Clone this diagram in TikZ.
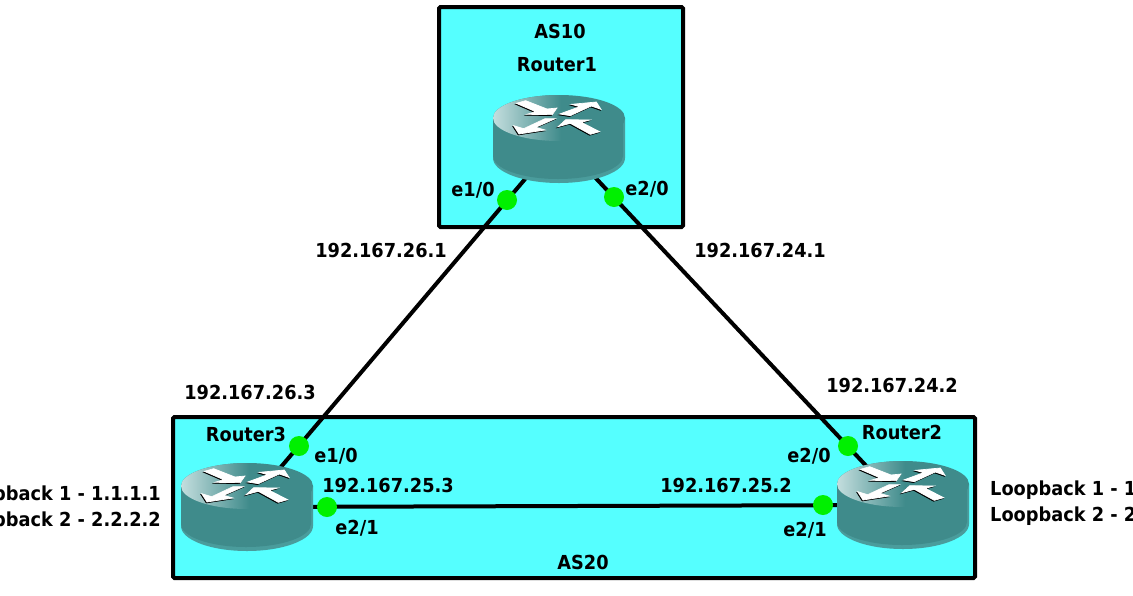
\documentclass[tikz,border=0pt]{standalone}
\usepackage{fontspec}
\setmainfont{DejaVu Sans}[FakeStretch=0.92]
\definecolor{asfill}{HTML}{55FFFF}
\definecolor{rbody}{HTML}{3F8B8B}
\definecolor{rband}{HTML}{4A9C9C}
\definecolor{rlight}{HTML}{C4DEDE}
\definecolor{dotgreen}{HTML}{00F000}
\tikzset{
  px/.style={x=1pt,y=-1pt},
  asbox/.style={draw=black,fill=asfill,line width=4pt,rounded corners=1.5pt},
  link/.style={draw=black,line width=4pt},
  portdot/.style={circle,fill=dotgreen,draw=none,minimum size=20pt,inner sep=0pt},
  lbl/.style={font=\fontsize{19.3}{21}\selectfont\bfseries,text=black,inner sep=0pt},
  anchorpt/.style={inner sep=0pt,minimum size=0pt},
  routerpic/.pic={
    % base band
    \fill[rband] (-66,0) -- (66,0) -- (66,40) arc[start angle=0,end angle=180,x radius=66,y radius=25] -- cycle;
    \fill[rbody] (-66,0) -- (64,0) -- (64,38) arc[start angle=0,end angle=180,x radius=65,y radius=23] -- cycle;
    % top surface
    \fill[rbody] (0,0) ellipse[x radius=66,y radius=23];
    \begin{scope}
      \clip (0,0) ellipse[x radius=66,y radius=23];
      \shade[left color=rlight,right color=rbody] (-66,-23) rectangle (2,23);
    \end{scope}
    \foreach \c/\dx/\dy in {black/-0.8/0.9,white/0/0}{
      \begin{scope}[shift={(\dx,\dy)},scale=1/3,shift={(-358,-114)}]
        \filldraw[fill=\c,draw=\c,line width=0.7pt] (230,70)--(258,62)--(322,87)--(352,84)--(338,104)--(262,103)--(288,95)--cycle;
        \filldraw[fill=\c,draw=\c,line width=0.7pt] (360,102)--(420,80)--(395,73)--(470,66)--(484,88)--(455,78)--(392,107)--cycle;
        \filldraw[fill=\c,draw=\c,line width=0.7pt] (347,116)--(288,142)--(316,150)--(238,162)--(222,137)--(252,146)--(316,116)--cycle;
        \filldraw[fill=\c,draw=\c,line width=0.7pt] (355,140)--(378,119)--(450,120)--(425,127)--(480,155)--(452,163)--(392,130)--cycle;
      \end{scope}
    }
  }
}
\begin{document}
\begin{tikzpicture}[px]
\path[use as bounding box] (0,0) rectangle (1133,595);
\clip (0,0) rectangle (1133,595);
\fill[white] (0,0) rectangle (1133,595);
\path[asbox] (439,7) rectangle (683,227);
\path[asbox] (173,417) rectangle (975,578);
\node[anchorpt] (R1) at (559,139) {};
\node[anchorpt] (R3) at (247,507) {};
\node[anchorpt] (R2) at (903,505) {};
\path[link] (R1) -- (R3);
\path[link] (R1) -- (R2);
\path[link] (R3) -- (R2);
\pic at (559,118) {routerpic};
\pic at (247,486) {routerpic};
\pic at (903,484) {routerpic};
\node[portdot] (p1) at (507,200) {};
\node[portdot] (p2) at (614,197) {};
\node[portdot] (p3) at (299,446) {};
\node[portdot] (p4) at (327,507) {};
\node[portdot] (p5) at (848,446) {};
\node[portdot] (p6) at (823,505) {};
\node[lbl] (t1) at (560,31) {AS10};
\node[lbl] (t2) at (557,65) {Router1};
\node[lbl] (t3) at (473,190) {e1/0};
\node[lbl] (t4) at (647,189) {e2/0};
\node[lbl] (t5) at (381,250) {192.167.26.1};
\node[lbl] (t6) at (760,250) {192.167.24.1};
\node[lbl] (t7) at (250,392) {192.167.26.3};
\node[lbl] (t8) at (892,385) {192.167.24.2};
\node[lbl] (t9) at (246,434) {Router3};
\node[lbl] (t10) at (336,456) {e1/0};
\node[lbl] (t11) at (388,485) {192.167.25.3};
\node[lbl] (t12) at (357,528) {e2/1};
\node[lbl] (t13) at (726,485) {192.167.25.2};
\node[lbl] (t14) at (809,456) {e2/0};
\node[lbl] (t15) at (805,530) {e2/1};
\node[lbl] (t16) at (902,432) {Router2};
\node[lbl] (t17) at (583,562) {AS20};
\node[lbl,anchor=east] (t18) at (161,495) {Loopback 1 - 1.1.1.1};
\node[lbl,anchor=east] (t19) at (161,521) {Loopback 2 - 2.2.2.2};
\node[lbl,anchor=west] (t20) at (990,490) {Loopback 1 - 1};
\node[lbl,anchor=west] (t21) at (990,516) {Loopback 2 - 2};
\end{tikzpicture}
\end{document}
